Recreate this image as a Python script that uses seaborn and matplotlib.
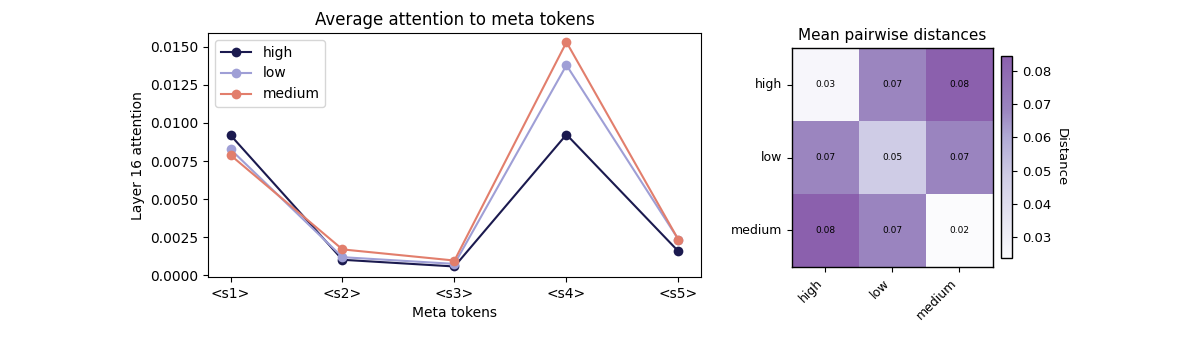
import matplotlib
matplotlib.use("Agg")
import matplotlib.pyplot as plt
import seaborn as sns
import numpy as np
import pandas as pd
from matplotlib.colors import LinearSegmentedColormap

tokens = ["<s1>", "<s2>", "<s3>", "<s4>", "<s5>"]
groups = ["high", "low", "medium"]
high_att = [0.0092, 0.00102, 0.00058, 0.00924, 0.00157]
low_att = [0.00827, 0.00119, 0.00075, 0.01379, 0.00235]
medium_att = [0.00789, 0.0017, 0.00097, 0.0153, 0.00233]

dist_high = [0.0262, 0.0685, 0.0845]
dist_low = [0.0685, 0.0482, 0.0690]
dist_medium = [0.0845, 0.0690, 0.0237]

line_colors = ["#1b1a4f", "#9f9fd6", "#e27e6c"]

rows = []
for g, vals in zip(groups, [high_att, low_att, medium_att]):
    for t, v in zip(tokens, vals):
        rows.append({"group": g, "token": t, "attention": v})
df = pd.DataFrame(rows)

dist = pd.DataFrame([dist_high, dist_low, dist_medium], index=groups, columns=groups)

fig = plt.figure(figsize=(11.96, 3.59), dpi=100)
ax1 = fig.add_axes([0.174, 0.228, 0.412, 0.68])
ax2 = fig.add_axes([0.662, 0.257, 0.168, 0.608])
cax = fig.add_axes([0.837, 0.281, 0.0092, 0.563])

sns.lineplot(data=df, x="token", y="attention", hue="group", palette=line_colors,
             marker="o", markersize=7, markeredgewidth=0, linewidth=1.5, ax=ax1)
ax1.legend(loc="upper left", fontsize=10, handlelength=2.2)
ax1.set_title("Average attention to meta tokens", fontsize=12)
ax1.set_xlabel("Meta tokens", fontsize=10)
ax1.set_ylabel("Layer 16 attention", fontsize=10)
ax1.set_ylim(-0.00012, 0.0159)
yt = [0, 0.0025, 0.005, 0.0075, 0.01, 0.0125, 0.015]
ax1.set_yticks(yt)
ax1.set_yticklabels([f"{v:.4f}" for v in yt])
ax1.tick_params(labelsize=10)

cmap = LinearSegmentedColormap.from_list(
    "dist", [(0.0, "#fbfbfd"), (0.4, "#d0cde6"), (0.6, "#b0aad6"), (0.73, "#9b86c0"), (1.0, "#8b60ad")])
sns.heatmap(dist, annot=True, fmt=".2f", cmap=cmap, ax=ax2, cbar_ax=cax,
            annot_kws={"size": 6.5, "color": "black"})
for s in ax2.spines.values():
    s.set_visible(True)
    s.set_linewidth(1)
ax2.set_title("Mean pairwise distances", fontsize=11)
ax2.set_xticklabels(groups, rotation=45, ha="right", fontsize=9)
ax2.set_yticklabels(groups, rotation=0, fontsize=9)
ax2.tick_params(length=3.5)
cbar = ax2.collections[0].colorbar
cbar.outline.set_linewidth(1)
cbar.set_label("Distance", rotation=270, labelpad=12, fontsize=9.5)
cbar.set_ticks([0.03, 0.04, 0.05, 0.06, 0.07, 0.08])
cbar.ax.tick_params(labelsize=9.5)

fig.savefig("out.png", dpi=100)
